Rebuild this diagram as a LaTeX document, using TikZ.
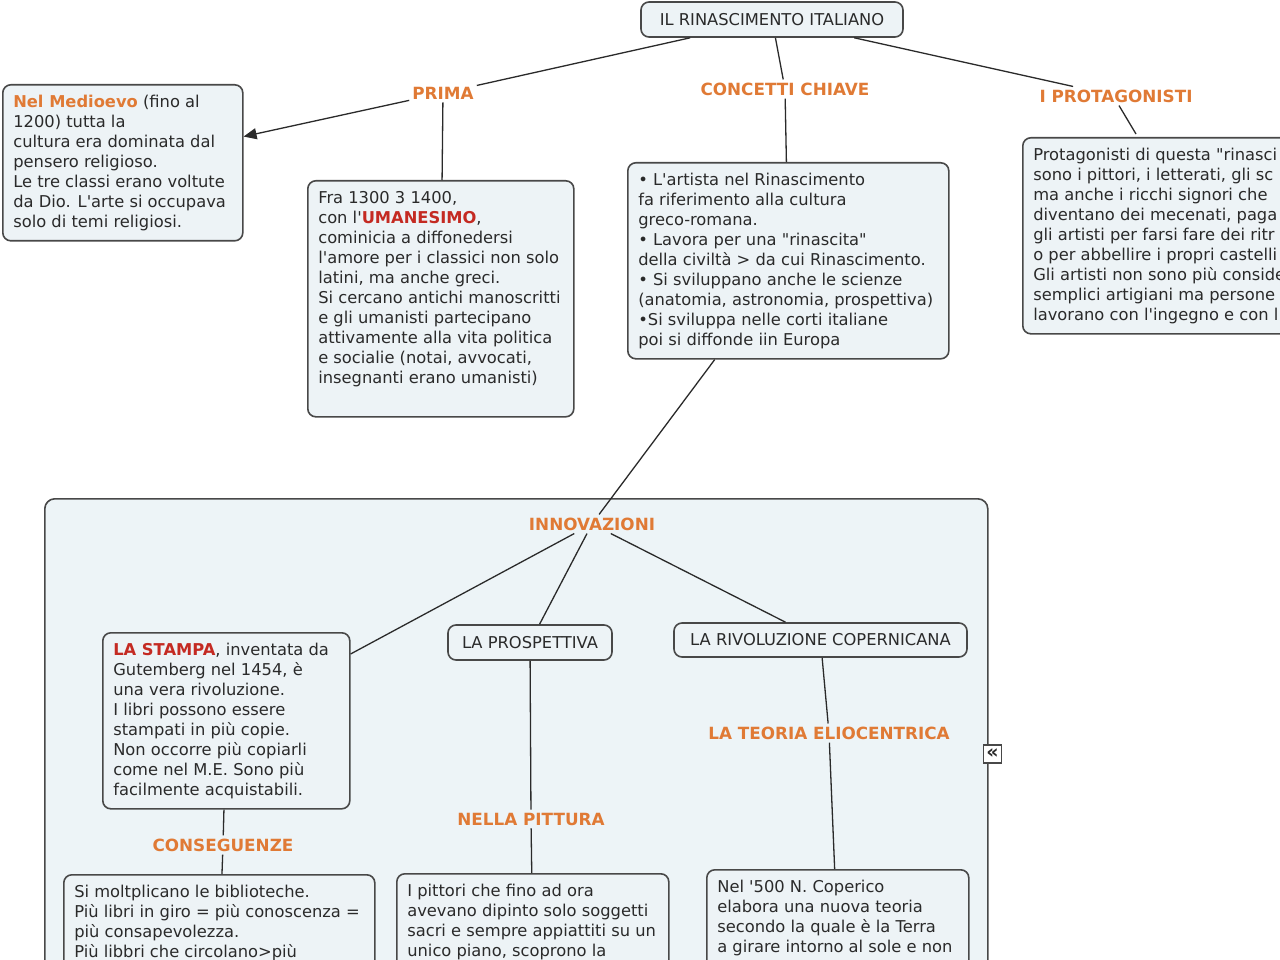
\documentclass[tikz,border=0pt]{standalone}
\usepackage{fontspec}
\newfontfamily\vfont{DejaVu Sans}
\usetikzlibrary{arrows.meta,calc}
\definecolor{boxfill}{HTML}{EDF3F6}
\definecolor{grpfill}{HTML}{EDF4F7}
\definecolor{edge}{HTML}{484848}
\definecolor{lab}{HTML}{E07A35}
\definecolor{hot}{HTML}{C42A22}
\definecolor{ink}{HTML}{2A2A2A}
\newcommand\bodyfont{\vfont\fontsize{16.3}{20}\selectfont}
\newcommand\boxtxt[3]{\parbox[c][#2][t]{#1}{\bodyfont\leftskip=10.5pt\rightskip=-300pt plus 1fil\noindent\rule{0pt}{22.5pt}#3}}
\tikzset{
  box/.style={draw=edge, fill=boxfill, line width=1.6pt, rounded corners=8pt, inner sep=0pt, anchor=north west, text=ink},
  simple/.style={draw=edge, fill=boxfill, line width=1.6pt, rounded corners=8pt, inner sep=0pt, text=ink, font=\bodyfont},
  lbl/.style={font=\vfont\bfseries\fontsize{16.8}{20}\selectfont, text=lab, inner sep=3pt},
  conn/.style={draw=ink, line width=1.3pt},
}
\begin{document}
\begin{tikzpicture}[x=1pt,y=-1pt]
\useasboundingbox (0,0) rectangle (1280,960);
\clip (0,0) rectangle (1280,960);
\fill[white] (0,0) rectangle (1280,960);

% group container
\node[draw=edge, fill=grpfill, line width=1.6pt, rounded corners=10pt, minimum width=943pt, minimum height=520pt, anchor=north west, inner sep=0pt] (grp) at (44,498) {};
\node[draw=edge, fill=white, line width=1.2pt, minimum size=18pt, inner sep=0pt, font=\vfont\bfseries\fontsize{19}{19}\selectfont, text=ink] (fold) at (992.5,754) {«};

% top level
\node[simple, minimum width=262pt, minimum height=35pt] (title) at (772,19.5) {IL RINASCIMENTO ITALIANO};

\node[lbl] (prima) at (443,93) {PRIMA};
\node[lbl] (concetti) at (785,89) {CONCETTI CHIAVE};
\node[lbl] (protl) at (1116,96) {I PROTAGONISTI};

\node[box] (med) at (2,84) {\boxtxt{240pt}{156pt}{\textcolor{lab}{\bfseries Nel Medioevo} (fino al\\1200) tutta la\\cultura era dominata dal\\pensero religioso.\\Le tre classi erano voltute\\da Dio. L'arte si occupava\\solo di temi religiosi.}};

\node[box] (fra) at (307,180) {\boxtxt{266pt}{236pt}{Fra 1300 3 1400,\\con l'\textcolor{hot}{\bfseries UMANESIMO},\\cominicia a diffonedersi\\l'amore per i classici non solo\\latini, ma anche greci.\\Si cercano antichi manoscritti\\e gli umanisti partecipano\\attivamente alla vita politica\\e socialie (notai, avvocati,\\insegnanti erano umanisti)}};

\node[box] (concept) at (627,162) {\boxtxt{321pt}{196pt}{• L'artista nel Rinascimento\\fa riferimento alla cultura\\greco-romana.\\• Lavora per una "rinascita"\\della civiltà > da cui Rinascimento.\\• Si sviluppano anche le scienze\\(anatomia, astronomia, prospettiva)\\•Si sviluppa nelle corti italiane\\poi si diffonde iin Europa}};

\node[box] (prot) at (1022,137) {\boxtxt{300pt}{196pt}{Protagonisti di questa "rinasci\\sono i pittori, i letterati, gli sc\\ma anche i ricchi signori che\\diventano dei mecenati, paga\\gli artisti per farsi fare dei ritr\\o per abbellire i propri castelli\\Gli artisti non sono più conside\\semplici artigiani ma persone\\lavorano con l'ingegno e con l}};

% innovations
\node[lbl] (innov) at (592,524) {INNOVAZIONI};

\node[box] (stampa) at (102,632) {\boxtxt{247pt}{176pt}{\textcolor{hot}{\bfseries LA STAMPA}, inventata da\\Gutemberg nel 1454, è\\una vera rivoluzione.\\I libri possono essere\\stampati in più copie.\\Non occorre più copiarli\\come nel M.E. Sono più\\facilmente acquistabili.}};

\node[simple, minimum width=164pt, minimum height=35pt] (prosp) at (530,642.5) {LA PROSPETTIVA};
\node[simple, minimum width=293pt, minimum height=34pt] (riv) at (820.5,640) {LA RIVOLUZIONE COPERNICANA};

\node[lbl] (conseg) at (223,845) {CONSEGUENZE};
\node[lbl] (nella) at (531,819) {NELLA PITTURA};
\node[lbl] (teoria) at (829,733) {LA TEORIA ELIOCENTRICA};

\node[box] (consbox) at (63,874) {\boxtxt{311pt}{150pt}{Si moltplicano le biblioteche.\\Più libri in giro = più conoscenza =\\più consapevolezza.\\Più libbri che circolano>più}};

\node[box] (pitt) at (396,873) {\boxtxt{272pt}{150pt}{I pittori che fino ad ora\\avevano dipinto solo soggetti\\sacri e sempre appiattiti su un\\unico piano, scoprono la}};

\node[box] (cop) at (706,869) {\boxtxt{262pt}{150pt}{Nel '500 N. Coperico\\elabora una nuova teoria\\secondo la quale è la Terra\\a girare intorno al sole e non}};

% connectors
\draw[conn] (title) -- (prima);
\draw[conn] (title) -- (concetti);
\draw[conn] (title) -- (protl);
\draw[conn, -{Triangle[length=13pt,width=11pt]}] (prima) -- (med);
\draw[conn] (prima) -- (fra);
\draw[conn] (concetti) -- (concept);
\draw[conn] ($(protl.south)+(3,0)$) -- ($(prot.north west)+(114,-3)$);
\draw[conn] (concept) -- (innov);
\draw[conn] (innov) -- (stampa);
\draw[conn] (innov) -- (prosp);
\draw[conn] (innov) -- (riv);
\draw[conn] (prosp) -- (nella);
\draw[conn] (nella) -- (pitt);
\draw[conn] (riv) -- (teoria);
\draw[conn] (teoria) -- (cop);
\draw[conn] (stampa) -- (conseg);
\draw[conn] (conseg) -- (consbox);
\end{tikzpicture}
\end{document}
